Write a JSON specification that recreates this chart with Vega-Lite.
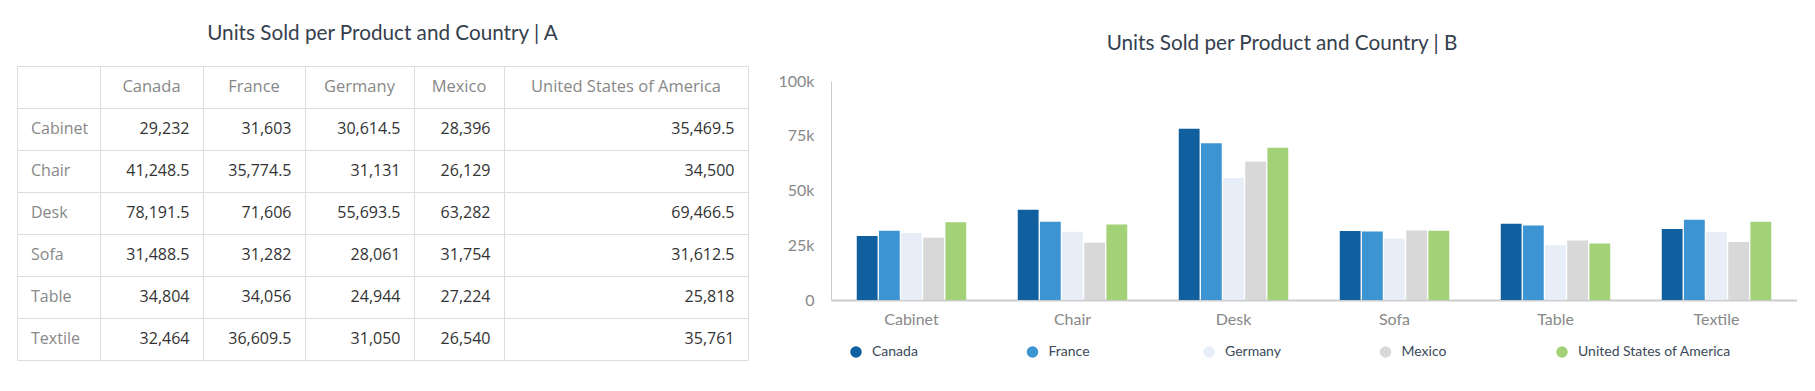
{
  "$schema": "https://vega.github.io/schema/vega-lite/v6.json",
  "padding": {"left": 16, "top": 22, "right": 0, "bottom": 0},
  "background": "white",
  "config": {"view": {"stroke": null}, "font": "Lato"},
  "resolve": {"legend": {"color": "independent"}},
  "datasets": {
    "units": [
      {"Product": "Cabinet", "Country": "Canada", "Units": 29232},
      {"Product": "Cabinet", "Country": "France", "Units": 31603},
      {"Product": "Cabinet", "Country": "Germany", "Units": 30614.5},
      {"Product": "Cabinet", "Country": "Mexico", "Units": 28396},
      {"Product": "Cabinet", "Country": "United States of America", "Units": 35469.5},
      {"Product": "Chair", "Country": "Canada", "Units": 41248.5},
      {"Product": "Chair", "Country": "France", "Units": 35774.5},
      {"Product": "Chair", "Country": "Germany", "Units": 31131},
      {"Product": "Chair", "Country": "Mexico", "Units": 26129},
      {"Product": "Chair", "Country": "United States of America", "Units": 34500},
      {"Product": "Desk", "Country": "Canada", "Units": 78191.5},
      {"Product": "Desk", "Country": "France", "Units": 71606},
      {"Product": "Desk", "Country": "Germany", "Units": 55693.5},
      {"Product": "Desk", "Country": "Mexico", "Units": 63282},
      {"Product": "Desk", "Country": "United States of America", "Units": 69466.5},
      {"Product": "Sofa", "Country": "Canada", "Units": 31488.5},
      {"Product": "Sofa", "Country": "France", "Units": 31282},
      {"Product": "Sofa", "Country": "Germany", "Units": 28061},
      {"Product": "Sofa", "Country": "Mexico", "Units": 31754},
      {"Product": "Sofa", "Country": "United States of America", "Units": 31612.5},
      {"Product": "Table", "Country": "Canada", "Units": 34804},
      {"Product": "Table", "Country": "France", "Units": 34056},
      {"Product": "Table", "Country": "Germany", "Units": 24944},
      {"Product": "Table", "Country": "Mexico", "Units": 27224},
      {"Product": "Table", "Country": "United States of America", "Units": 25818},
      {"Product": "Textile", "Country": "Canada", "Units": 32464},
      {"Product": "Textile", "Country": "France", "Units": 36609.5},
      {"Product": "Textile", "Country": "Germany", "Units": 31050},
      {"Product": "Textile", "Country": "Mexico", "Units": 26540},
      {"Product": "Textile", "Country": "United States of America", "Units": 35761}
    ]
  },
  "spacing": 29,
  "hconcat": [
    {
      "title": {"text": "Units Sold per Product and Country | A", "anchor": "middle", "font": "Lato", "fontSize": 20.7, "fontWeight": "normal", "color": "#34404d", "offset": 21},
      "spacing": 0,
      "bounds": "flush",
      "hconcat": [
        {
          "width": 83, "height": 294,
          "view": {"stroke": "#dddddd"},
          "data": {"name": "units"},
          "transform": [{"filter": "datum.Country === 'Canada'"}],
          "mark": {"type": "text", "align": "left", "dx": 14, "font": "Open Sans", "fontSize": 16, "color": "#888888"},
          "encoding": {
            "x": {"field": "Country", "type": "nominal", "bandPosition": 0, "scale": {"type": "band", "paddingInner": 0, "paddingOuter": 0}, "axis": null},
            "y": {"field": "Product", "type": "nominal", "scale": {"type": "band", "domain": ["hdr", "Cabinet", "Chair", "Desk", "Sofa", "Table", "Textile"], "paddingInner": 0, "paddingOuter": 0}, "axis": {"title": null, "labels": false, "ticks": false, "domain": false, "grid": true, "gridColor": "#dddddd", "bandPosition": 0}},
            "text": {"field": "Product"}
          }
        },
        {
          "width": 103, "height": 294,
          "view": {"stroke": "#dddddd"},
          "data": {"name": "units"},
          "transform": [{"filter": "datum.Country === 'Canada'"}],
          "layer": [
            {
              "transform": [{"aggregate": [{"op": "count", "as": "n"}], "groupby": ["Country"]}],
              "mark": {"type": "text", "font": "Open Sans", "fontSize": 16.5, "color": "#888888"},
              "encoding": {
                "x": {"field": "Country", "type": "nominal", "scale": {"type": "band", "paddingInner": 0, "paddingOuter": 0}, "axis": null},
                "y": {"datum": "hdr", "type": "nominal", "scale": {"type": "band", "domain": ["hdr", "Cabinet", "Chair", "Desk", "Sofa", "Table", "Textile"], "paddingInner": 0, "paddingOuter": 0}, "axis": {"title": null, "labels": false, "ticks": false, "domain": false, "grid": true, "gridColor": "#dddddd", "bandPosition": 0}},
                "text": {"field": "Country"}
              }
            },
            {
              "mark": {"type": "text", "align": "right", "dx": -13.5, "font": "Open Sans", "fontSize": 16, "color": "#333333"},
              "encoding": {
                "x": {"field": "Country", "type": "nominal", "bandPosition": 1, "scale": {"type": "band", "paddingInner": 0, "paddingOuter": 0}, "axis": null},
                "y": {"field": "Product", "type": "nominal", "scale": {"type": "band", "domain": ["hdr", "Cabinet", "Chair", "Desk", "Sofa", "Table", "Textile"], "paddingInner": 0, "paddingOuter": 0}, "axis": {"title": null, "labels": false, "ticks": false, "domain": false, "grid": true, "gridColor": "#dddddd", "bandPosition": 0}},
                "text": {"field": "Units", "type": "quantitative", "format": ",.1~f"}
              }
            }
          ]
        },
        {
          "width": 102, "height": 294,
          "view": {"stroke": "#dddddd"},
          "data": {"name": "units"},
          "transform": [{"filter": "datum.Country === 'France'"}],
          "layer": [
            {
              "transform": [{"aggregate": [{"op": "count", "as": "n"}], "groupby": ["Country"]}],
              "mark": {"type": "text", "font": "Open Sans", "fontSize": 16.5, "color": "#888888"},
              "encoding": {
                "x": {"field": "Country", "type": "nominal", "scale": {"type": "band", "paddingInner": 0, "paddingOuter": 0}, "axis": null},
                "y": {"datum": "hdr", "type": "nominal", "scale": {"type": "band", "domain": ["hdr", "Cabinet", "Chair", "Desk", "Sofa", "Table", "Textile"], "paddingInner": 0, "paddingOuter": 0}, "axis": {"title": null, "labels": false, "ticks": false, "domain": false, "grid": true, "gridColor": "#dddddd", "bandPosition": 0}},
                "text": {"field": "Country"}
              }
            },
            {
              "mark": {"type": "text", "align": "right", "dx": -13.5, "font": "Open Sans", "fontSize": 16, "color": "#333333"},
              "encoding": {
                "x": {"field": "Country", "type": "nominal", "bandPosition": 1, "scale": {"type": "band", "paddingInner": 0, "paddingOuter": 0}, "axis": null},
                "y": {"field": "Product", "type": "nominal", "scale": {"type": "band", "domain": ["hdr", "Cabinet", "Chair", "Desk", "Sofa", "Table", "Textile"], "paddingInner": 0, "paddingOuter": 0}, "axis": {"title": null, "labels": false, "ticks": false, "domain": false, "grid": true, "gridColor": "#dddddd", "bandPosition": 0}},
                "text": {"field": "Units", "type": "quantitative", "format": ",.1~f"}
              }
            }
          ]
        },
        {
          "width": 109, "height": 294,
          "view": {"stroke": "#dddddd"},
          "data": {"name": "units"},
          "transform": [{"filter": "datum.Country === 'Germany'"}],
          "layer": [
            {
              "transform": [{"aggregate": [{"op": "count", "as": "n"}], "groupby": ["Country"]}],
              "mark": {"type": "text", "font": "Open Sans", "fontSize": 16.5, "color": "#888888"},
              "encoding": {
                "x": {"field": "Country", "type": "nominal", "scale": {"type": "band", "paddingInner": 0, "paddingOuter": 0}, "axis": null},
                "y": {"datum": "hdr", "type": "nominal", "scale": {"type": "band", "domain": ["hdr", "Cabinet", "Chair", "Desk", "Sofa", "Table", "Textile"], "paddingInner": 0, "paddingOuter": 0}, "axis": {"title": null, "labels": false, "ticks": false, "domain": false, "grid": true, "gridColor": "#dddddd", "bandPosition": 0}},
                "text": {"field": "Country"}
              }
            },
            {
              "mark": {"type": "text", "align": "right", "dx": -13.5, "font": "Open Sans", "fontSize": 16, "color": "#333333"},
              "encoding": {
                "x": {"field": "Country", "type": "nominal", "bandPosition": 1, "scale": {"type": "band", "paddingInner": 0, "paddingOuter": 0}, "axis": null},
                "y": {"field": "Product", "type": "nominal", "scale": {"type": "band", "domain": ["hdr", "Cabinet", "Chair", "Desk", "Sofa", "Table", "Textile"], "paddingInner": 0, "paddingOuter": 0}, "axis": {"title": null, "labels": false, "ticks": false, "domain": false, "grid": true, "gridColor": "#dddddd", "bandPosition": 0}},
                "text": {"field": "Units", "type": "quantitative", "format": ",.1~f"}
              }
            }
          ]
        },
        {
          "width": 90, "height": 294,
          "view": {"stroke": "#dddddd"},
          "data": {"name": "units"},
          "transform": [{"filter": "datum.Country === 'Mexico'"}],
          "layer": [
            {
              "transform": [{"aggregate": [{"op": "count", "as": "n"}], "groupby": ["Country"]}],
              "mark": {"type": "text", "font": "Open Sans", "fontSize": 16.5, "color": "#888888"},
              "encoding": {
                "x": {"field": "Country", "type": "nominal", "scale": {"type": "band", "paddingInner": 0, "paddingOuter": 0}, "axis": null},
                "y": {"datum": "hdr", "type": "nominal", "scale": {"type": "band", "domain": ["hdr", "Cabinet", "Chair", "Desk", "Sofa", "Table", "Textile"], "paddingInner": 0, "paddingOuter": 0}, "axis": {"title": null, "labels": false, "ticks": false, "domain": false, "grid": true, "gridColor": "#dddddd", "bandPosition": 0}},
                "text": {"field": "Country"}
              }
            },
            {
              "mark": {"type": "text", "align": "right", "dx": -13.5, "font": "Open Sans", "fontSize": 16, "color": "#333333"},
              "encoding": {
                "x": {"field": "Country", "type": "nominal", "bandPosition": 1, "scale": {"type": "band", "paddingInner": 0, "paddingOuter": 0}, "axis": null},
                "y": {"field": "Product", "type": "nominal", "scale": {"type": "band", "domain": ["hdr", "Cabinet", "Chair", "Desk", "Sofa", "Table", "Textile"], "paddingInner": 0, "paddingOuter": 0}, "axis": {"title": null, "labels": false, "ticks": false, "domain": false, "grid": true, "gridColor": "#dddddd", "bandPosition": 0}},
                "text": {"field": "Units", "type": "quantitative", "format": ",.1~f"}
              }
            }
          ]
        },
        {
          "width": 244, "height": 294,
          "view": {"stroke": "#dddddd"},
          "data": {"name": "units"},
          "transform": [{"filter": "datum.Country === 'United States of America'"}],
          "layer": [
            {
              "transform": [{"aggregate": [{"op": "count", "as": "n"}], "groupby": ["Country"]}],
              "mark": {"type": "text", "font": "Open Sans", "fontSize": 16.5, "color": "#888888"},
              "encoding": {
                "x": {"field": "Country", "type": "nominal", "scale": {"type": "band", "paddingInner": 0, "paddingOuter": 0}, "axis": null},
                "y": {"datum": "hdr", "type": "nominal", "scale": {"type": "band", "domain": ["hdr", "Cabinet", "Chair", "Desk", "Sofa", "Table", "Textile"], "paddingInner": 0, "paddingOuter": 0}, "axis": {"title": null, "labels": false, "ticks": false, "domain": false, "grid": true, "gridColor": "#dddddd", "bandPosition": 0}},
                "text": {"field": "Country"}
              }
            },
            {
              "mark": {"type": "text", "align": "right", "dx": -13.5, "font": "Open Sans", "fontSize": 16, "color": "#333333"},
              "encoding": {
                "x": {"field": "Country", "type": "nominal", "bandPosition": 1, "scale": {"type": "band", "paddingInner": 0, "paddingOuter": 0}, "axis": null},
                "y": {"field": "Product", "type": "nominal", "scale": {"type": "band", "domain": ["hdr", "Cabinet", "Chair", "Desk", "Sofa", "Table", "Textile"], "paddingInner": 0, "paddingOuter": 0}, "axis": {"title": null, "labels": false, "ticks": false, "domain": false, "grid": true, "gridColor": "#dddddd", "bandPosition": 0}},
                "text": {"field": "Units", "type": "quantitative", "format": ",.1~f"}
              }
            }
          ]
        }
      ]
    },
    {
      "width": 966, "height": 234,
      "title": {"text": "Units Sold per Product and Country | B", "anchor": "middle", "font": "Lato", "fontSize": 20.7, "fontWeight": "normal", "color": "#34404d", "offset": 11, "dx": -32},
      "data": {"name": "units"},
      "mark": {"type": "bar"},
      "encoding": {
        "x": {"field": "Product", "type": "nominal", "scale": {"paddingInner": 0.32, "paddingOuter": 0.16}, "axis": {"title": null, "labelAngle": 0, "labelFont": "Lato", "labelFontSize": 16, "labelColor": "#888888", "ticks": false, "domainColor": "#cccccc", "domainWidth": 2, "labelPadding": 11}},
        "xOffset": {"field": "Country", "type": "nominal", "scale": {"paddingInner": 0.06}},
        "y": {"field": "Units", "type": "quantitative", "scale": {"domain": [0, 100000], "range": [234, 15]}, "axis": {"title": null, "values": [0, 25000, 50000, 75000, 100000], "labelExpr": "datum.value == 0 ? '0' : (datum.value / 1000) + 'k'", "grid": false, "ticks": false, "domainColor": "#cccccc", "labelFont": "Lato", "labelFontSize": 16, "labelColor": "#888888", "labelPadding": 17}},
        "color": {"field": "Country", "type": "nominal", "scale": {"domain": ["Canada", "France", "Germany", "Mexico", "United States of America"], "range": ["#1060a0", "#3c94d2", "#e8eef8", "#d8d8d8", "#a3d177"]}, "legend": {"title": null, "orient": "bottom", "direction": "horizontal", "columns": 5, "gridAlign": "all", "symbolType": "circle", "symbolSize": 133, "symbolStrokeWidth": 0, "labelFont": "Lato", "labelFontSize": 14, "labelColor": "#3b4a5a", "labelOffset": 9, "columnPadding": 0.5, "padding": 18, "offset": 0}}
      }
    }
  ]
}
